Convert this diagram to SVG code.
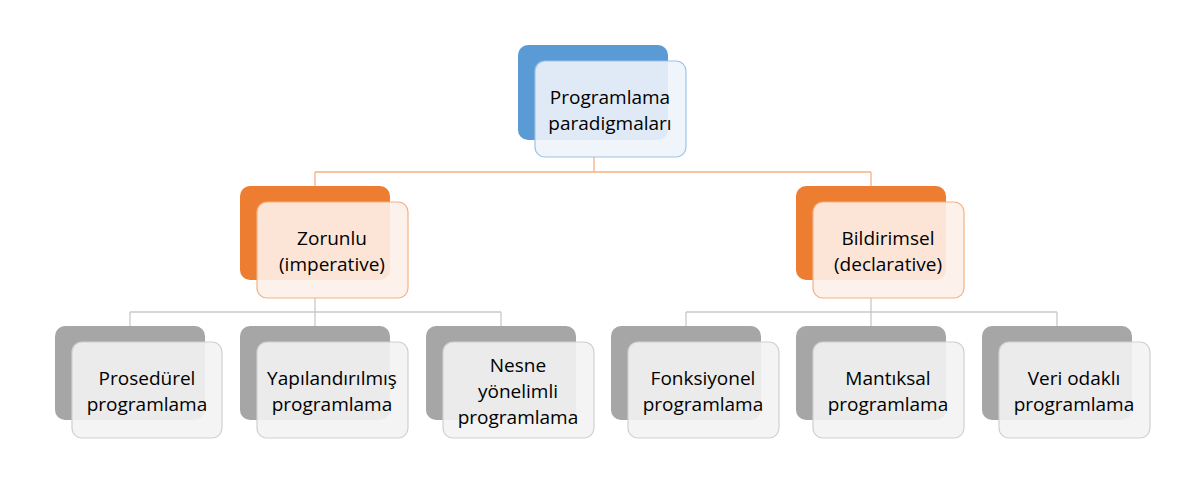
<svg xmlns="http://www.w3.org/2000/svg" width="1200" height="497" viewBox="0 0 1200 497">
<style>
.bk{stroke:none}
.fr{stroke-width:1.2;fill-opacity:0.9}
.t{font-family:"Open Sans","Liberation Sans",sans-serif;font-size:19px;fill:#000;text-anchor:middle}
.c{fill:none;stroke-width:1.3}
</style>
<rect width="1200" height="497" fill="#fff"/>
<g id="connectors">
<path class="c" stroke="#f4b183" d="M594 157V172M315 172H871M315 172V186M871 172V186"/>
<path class="c" stroke="#c9c9c9" d="M315 298V312M130 312H501M130 312V326M315 312V326M501 312V326"/>
<path class="c" stroke="#c9c9c9" d="M871 298V312M686 312H1057M686 312V326M871 312V326M1057 312V326"/>
</g>
<g id="root">
<rect class="bk" x="518" y="45" width="150" height="95" rx="10" fill="#5b9bd5"/>
<rect class="fr" x="535" y="61" width="151" height="96" rx="10" fill="#eef3fb" stroke="#9dc3e6"/>
<text class="t" x="610" y="104">Programlama</text><text class="t" x="610" y="130">paradigmaları</text>
</g>
<g id="imperative">
<rect class="bk" x="240" y="186" width="150" height="94" rx="10" fill="#ed7d31"/>
<rect class="fr" x="257" y="202" width="151" height="96" rx="10" fill="#fdf0e9" stroke="#f4b183"/>
<text class="t" x="332" y="245">Zorunlu</text><text class="t" x="332" y="271">(imperative)</text>
</g>
<g id="declarative">
<rect class="bk" x="796" y="186" width="150" height="94" rx="10" fill="#ed7d31"/>
<rect class="fr" x="813" y="202" width="151" height="96" rx="10" fill="#fdf0e9" stroke="#f4b183"/>
<text class="t" x="888" y="245">Bildirimsel</text><text class="t" x="888" y="271">(declarative)</text>
</g>
<g id="prosedurel">
<rect class="bk" x="55" y="326" width="150" height="94" rx="10" fill="#a6a6a6"/>
<rect class="fr" x="72" y="342" width="150" height="96" rx="10" fill="#f3f3f3" stroke="#d0d0d0"/>
<text class="t" x="147" y="385">Prosedürel</text><text class="t" x="147" y="411">programlama</text>
</g>
<g id="yapilandirilmis">
<rect class="bk" x="240" y="326" width="150" height="94" rx="10" fill="#a6a6a6"/>
<rect class="fr" x="257" y="342" width="151" height="96" rx="10" fill="#f3f3f3" stroke="#d0d0d0"/>
<text class="t" x="332" y="385">Yapılandırılmış</text><text class="t" x="332" y="411">programlama</text>
</g>
<g id="nesne">
<rect class="bk" x="426" y="326" width="150" height="94" rx="10" fill="#a6a6a6"/>
<rect class="fr" x="443" y="342" width="151" height="96" rx="10" fill="#f3f3f3" stroke="#d0d0d0"/>
<text class="t" x="518" y="372">Nesne</text><text class="t" x="518" y="398">yönelimli</text><text class="t" x="518" y="424">programlama</text>
</g>
<g id="fonksiyonel">
<rect class="bk" x="611" y="326" width="150" height="94" rx="10" fill="#a6a6a6"/>
<rect class="fr" x="628" y="342" width="151" height="96" rx="10" fill="#f3f3f3" stroke="#d0d0d0"/>
<text class="t" x="703" y="385">Fonksiyonel</text><text class="t" x="703" y="411">programlama</text>
</g>
<g id="mantiksal">
<rect class="bk" x="796" y="326" width="150" height="94" rx="10" fill="#a6a6a6"/>
<rect class="fr" x="813" y="342" width="151" height="96" rx="10" fill="#f3f3f3" stroke="#d0d0d0"/>
<text class="t" x="888" y="385">Mantıksal</text><text class="t" x="888" y="411">programlama</text>
</g>
<g id="veri">
<rect class="bk" x="982" y="326" width="150" height="94" rx="10" fill="#a6a6a6"/>
<rect class="fr" x="999" y="342" width="151" height="96" rx="10" fill="#f3f3f3" stroke="#d0d0d0"/>
<text class="t" x="1074" y="385">Veri odaklı</text><text class="t" x="1074" y="411">programlama</text>
</g>
</svg>
